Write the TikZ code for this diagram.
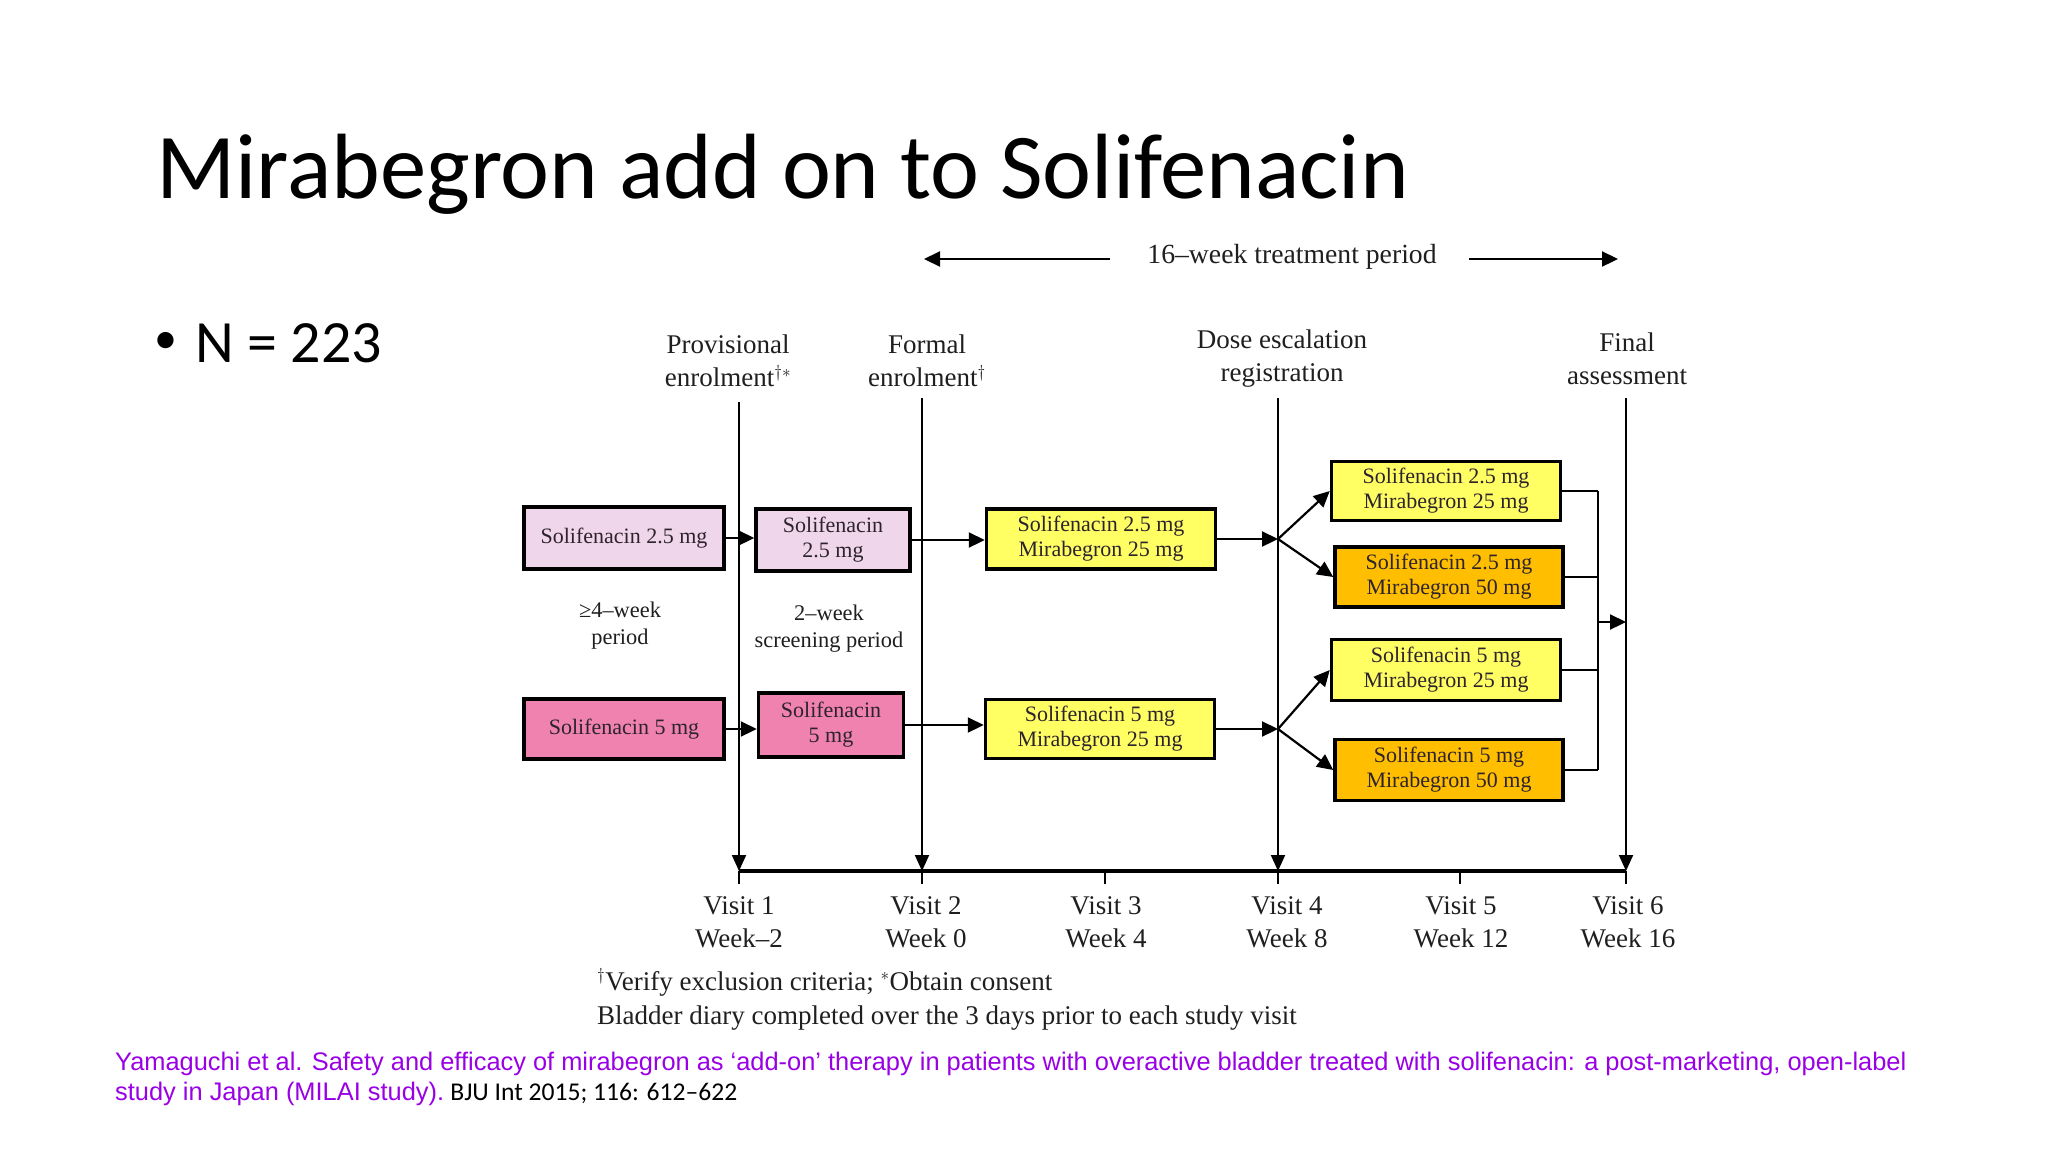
\documentclass[tikz,border=0pt]{standalone}
\usepackage{fontspec}
\setmainfont{Liberation Serif}
\newfontfamily\carlito{Carlito}
\newfontfamily\libsans{Liberation Sans}
\usetikzlibrary{arrows.meta}
\definecolor{lpink}{RGB}{240,214,234}
\definecolor{dpink}{RGB}{240,130,175}
\definecolor{ylw}{RGB}{255,255,100}
\definecolor{org}{RGB}{255,190,0}
\definecolor{boxtext}{RGB}{45,35,45}
\definecolor{cite}{RGB}{153,0,230}
\tikzset{
  drug/.style={draw=black, line width=3.5pt, text=boxtext, align=center, inner sep=0pt,
    font=\fontsize{22}{25}\selectfont},
  lbl/.style={align=center, inner sep=0pt, text=black!88, font=\fontsize{27}{33}\selectfont},
  arr/.style={-{Triangle[length=16pt,width=15pt]}, line width=2.2pt},
  vline/.style={-{Triangle[length=16pt,width=14pt]}, line width=2pt},
  conn/.style={line width=1.8pt}
}
\begin{document}
\begin{tikzpicture}[x=1pt,y=-1pt]
\fill[white] (0,0) rectangle (2048,1152);
\useasboundingbox (0,0) rectangle (2048,1152);

% title and bullet
\node[anchor=base west, inner sep=0pt, font=\carlito\fontsize{92.7}{100}\selectfont] (title) at (156,198) {Mirabegron add on to Solifenacin};
\node[inner sep=0pt, font=\carlito\fontsize{46}{50}\selectfont] (bul) at (166,343) {•};
\node[anchor=base west, inner sep=0pt, font=\carlito\fontsize{60}{64}\selectfont] (nn) at (195,362) {N = 223};

% treatment period
\node[lbl, font=\fontsize{27.7}{30}\selectfont] (tp) at (1292,257) {16–week treatment period};
\coordinate (tpl1) at (1110,259); \coordinate (tpl2) at (924,259);
\coordinate (tpr1) at (1469,259); \coordinate (tpr2) at (1618,259);
\draw[arr] (tpl1) -- (tpl2);
\draw[arr] (tpr1) -- (tpr2);

% header labels
\node[lbl] (h1) at (728,361) {Provisional\\enrolment$^{\dagger *}$};
\node[lbl] (h2) at (927,361) {Formal\\enrolment$^{\dagger}$};
\node[lbl] (h3) at (1282,359) {Dose escalation\\registration};
\node[lbl] (h4) at (1627,359) {Final\\assessment};

% vertical lines
\coordinate (v1t) at (739,402); \coordinate (v1b) at (739,871);
\coordinate (v2t) at (922,398); \coordinate (v2b) at (922,871);
\coordinate (v4t) at (1278,398); \coordinate (v4b) at (1278,871);
\coordinate (v6t) at (1626,398); \coordinate (v6b) at (1626,871);
\draw[vline] (v1t) -- (v1b);
\draw[vline] (v2t) -- (v2b);
\draw[vline] (v4t) -- (v4b);
\draw[vline] (v6t) -- (v6b);

% timeline
\draw[line width=4.5pt] (v1b) -- (v6b);
\coordinate (t1) at (739,884); \coordinate (t2) at (922,884);
\coordinate (t3) at (1105,884); \coordinate (t3a) at (1105,871);
\coordinate (t4) at (1278,884); \coordinate (t5) at (1460,884);
\coordinate (t5a) at (1460,871); \coordinate (t6) at (1626,884);
\draw[line width=2.5pt] (v1b) -- (t1);
\draw[line width=2.5pt] (v2b) -- (t2);
\draw[line width=2.5pt] (t3a) -- (t3);
\draw[line width=2.5pt] (v4b) -- (t4);
\draw[line width=2.5pt] (t5a) -- (t5);
\draw[line width=2.5pt] (v6b) -- (t6);

% visit labels
\node[lbl] (w1) at (739,922) {Visit 1\\Week–2};
\node[lbl] (w2) at (926,922) {Visit 2\\Week 0};
\node[lbl] (w3) at (1106,922) {Visit 3\\Week 4};
\node[lbl] (w4) at (1287,922) {Visit 4\\Week 8};
\node[lbl] (w5) at (1461,922) {Visit 5\\Week 12};
\node[lbl] (w6) at (1628,922) {Visit 6\\Week 16};

% period labels
\node[lbl, font=\fontsize{22.4}{27}\selectfont] (p1) at (620,626) {≥4–week\\period};
\node[lbl, font=\fontsize{22.4}{27}\selectfont] (p2) at (829,629) {2–week\\screening period};

% boxes
\node[drug, fill=lpink, minimum width=200pt, minimum height=62pt] (b1) at (624,538) {Solifenacin 2.5 mg};
\node[drug, fill=lpink, minimum width=154pt, minimum height=62pt] (b2) at (833,540) {Solifenacin\\2.5 mg};
\node[drug, fill=ylw, minimum width=229pt, minimum height=60pt] (b3) at (1101,539) {Solifenacin 2.5 mg\\Mirabegron 25 mg};
\node[drug, fill=dpink, minimum width=200pt, minimum height=60pt] (b4) at (624,729) {Solifenacin 5 mg};
\node[drug, fill=dpink, minimum width=145pt, minimum height=64pt] (b5) at (831,725) {Solifenacin\\5 mg};
\node[drug, fill=ylw, minimum width=229pt, minimum height=59pt] (b6) at (1100,729) {Solifenacin 5 mg\\Mirabegron 25 mg};
\node[drug, fill=ylw, minimum width=229pt, minimum height=59pt] (r1) at (1446,491) {Solifenacin 2.5 mg\\Mirabegron 25 mg};
\node[drug, fill=org, minimum width=228pt, minimum height=60pt] (r2) at (1449,577) {Solifenacin 2.5 mg\\Mirabegron 50 mg};
\node[drug, fill=ylw, minimum width=229pt, minimum height=61pt] (r3) at (1446,670) {Solifenacin 5 mg\\Mirabegron 25 mg};
\node[drug, fill=org, minimum width=228pt, minimum height=61pt] (r4) at (1449,770) {Solifenacin 5 mg\\Mirabegron 50 mg};

% arrows between boxes
\draw[arr] (b1.east) -- (b1.east -| b2.west);
\draw[arr] (b2.east) -- (b2.east -| b3.west);
\draw[arr] (b4.east) -- (b4.east -| b5.west);
\draw[arr] (b5.east) -- (b5.east -| b6.west);
\coordinate (j1) at (1278,539);
\coordinate (j2) at (1278,729);
\draw[arr] (b3.east) -- (j1);
\draw[arr] (b6.east) -- (j2);
\draw[arr] (j1) -- (r1.west);
\draw[arr] (j1) -- (r2.west);
\draw[arr] (j2) -- (r3.west);
\draw[arr] (j2) -- (r4.west);

% right connectors
\coordinate (cTop) at (1598,491);
\coordinate (cBot) at (1598,770);
\coordinate (cArr) at (1598,622);
\draw[conn] (r1.east) -- (r1.east -| cTop);
\draw[conn] (r2.east) -- (r2.east -| cTop);
\draw[conn] (r3.east) -- (r3.east -| cTop);
\draw[conn] (r4.east) -- (r4.east -| cTop);
\draw[conn] (cTop) -- (cBot);
\draw[arr] (cArr) -- (cArr -| v6t);

% footnotes
\node[anchor=base west, inner sep=0pt, text=black!88, font=\fontsize{27}{30}\selectfont] (f1) at (597,990) {$^{\dagger}$Verify exclusion criteria; $^{*}$Obtain consent};
\node[anchor=base west, inner sep=0pt, text=black!88, font=\fontsize{27}{30}\selectfont] (f2) at (597,1024) {Bladder diary completed over the 3 days prior to each study visit};

% citation
\node[anchor=base west, inner sep=0pt, text=cite, font=\libsans\fontsize{25.4}{30}\selectfont] (c1) at (115,1070) {Yamaguchi et al. Safety and efficacy of mirabegron as ‘add-on’ therapy in patients with overactive bladder treated with solifenacin: a post-marketing, open-label};
\node[anchor=base west, inner sep=0pt, text=cite, font=\libsans\fontsize{25.4}{30}\selectfont] (c2) at (115,1100) {study in Japan (MILAI study).};
\node[anchor=base west, inner sep=0pt, text=black, font=\carlito\fontsize{25.6}{30}\selectfont] (c3) at (c2.base east) {\ BJU Int 2015; 116: 612–622};
\end{tikzpicture}
\end{document}
